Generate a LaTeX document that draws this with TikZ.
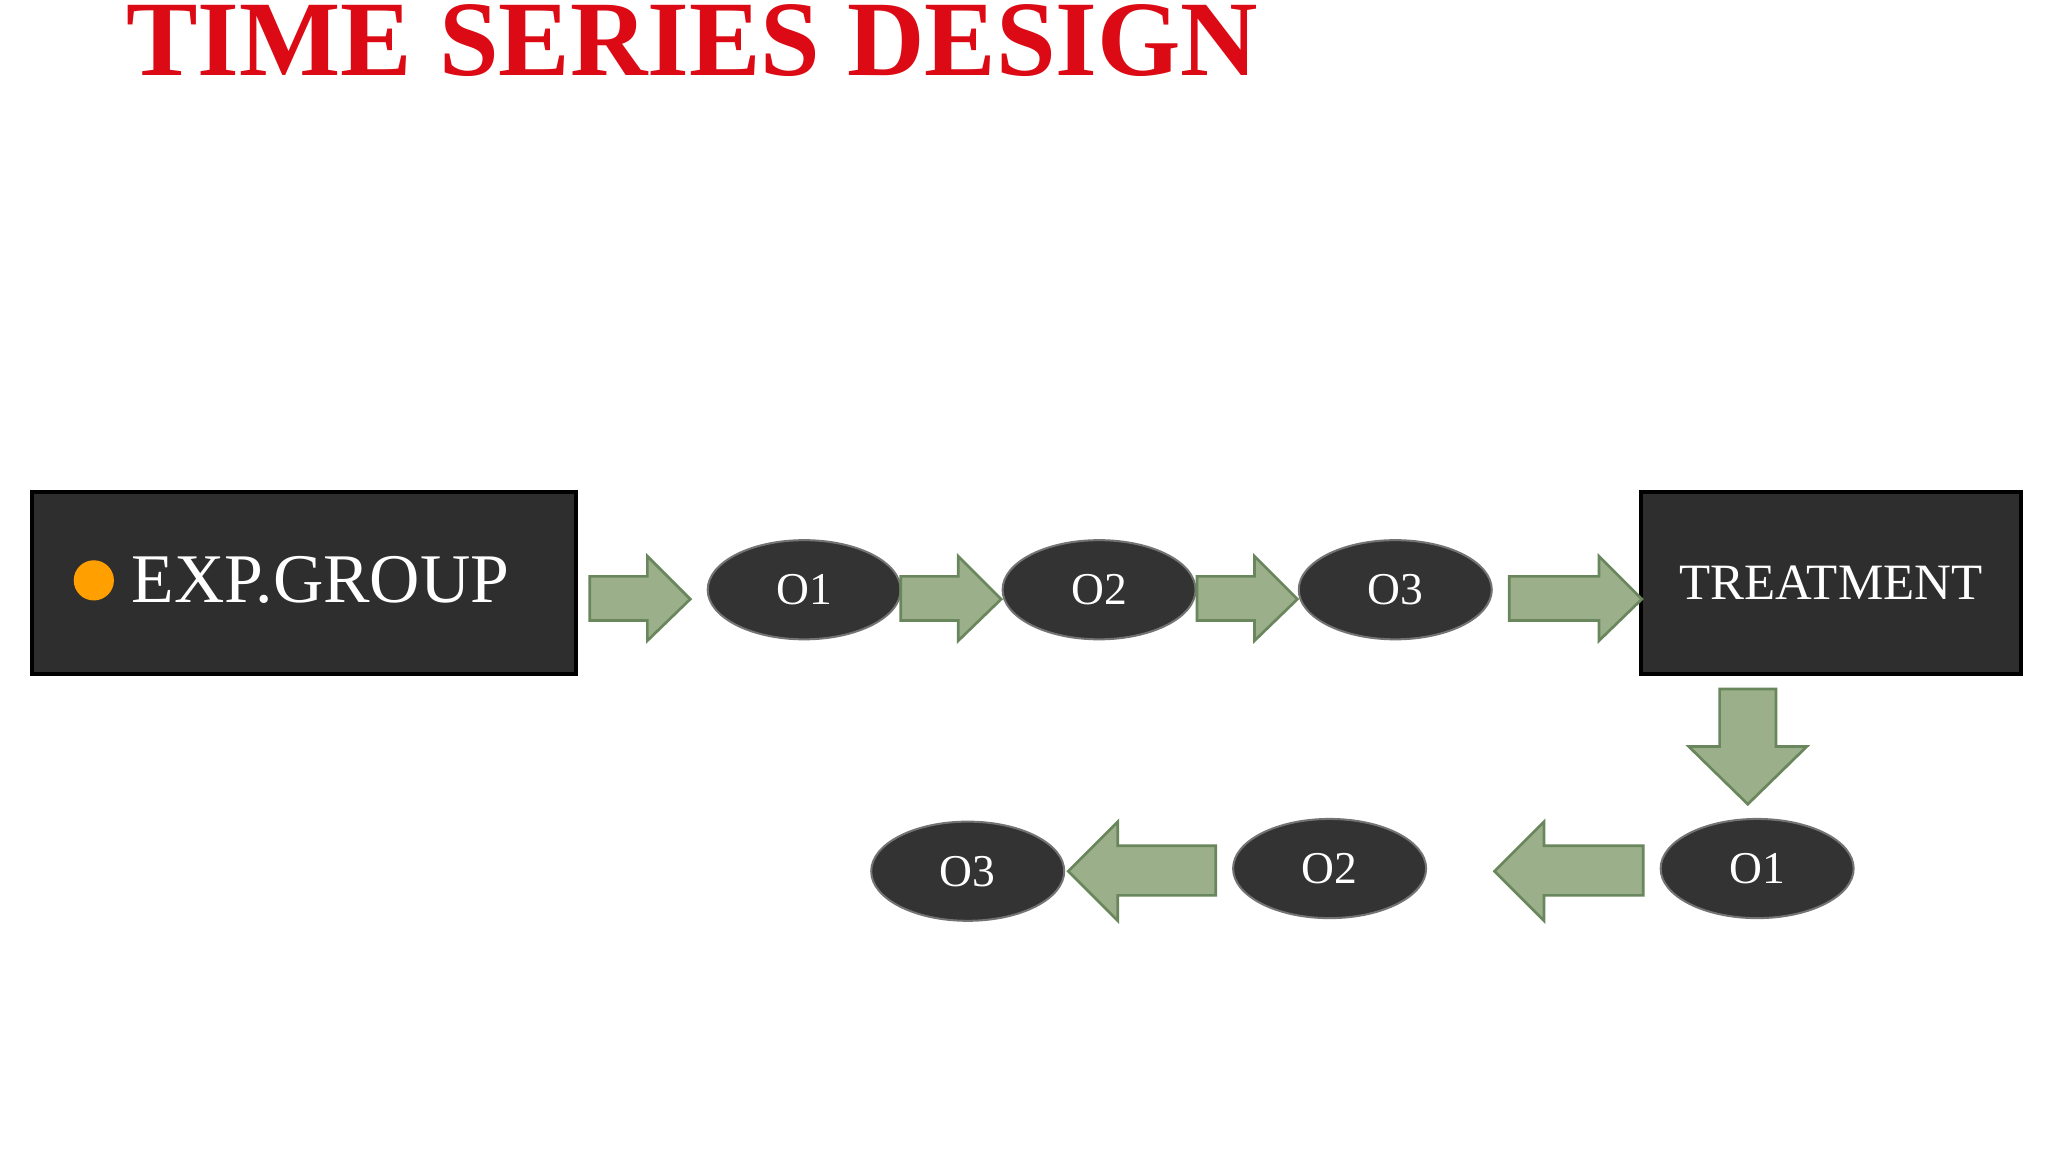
\documentclass[tikz,border=0pt]{standalone}
\usepackage{fontspec}
\setmainfont{Liberation Serif}
\usetikzlibrary{shapes.geometric}
\begin{document}
\begin{tikzpicture}[x=1pt,y=-1pt,
  box/.style={draw=black,line width=3pt,fill=black!82,text=white,inner sep=0pt},
  obs/.style={ellipse,fill=black!80,draw=black!55,line width=1.5pt,minimum width=144,minimum height=74,text=white,inner sep=0pt,font=\fontsize{34}{34}\selectfont},
  garrow/.style={fill={rgb,255:red,155;green,176;blue,138},draw={rgb,255:red,106;green,134;blue,92},line width=2pt,line join=miter}]
\useasboundingbox (0,0) rectangle (1528,860);
\fill[white] (0,0) rectangle (1528,860);
\node[anchor=base west,text={rgb,255:red,220;green,10;blue,20},font=\bfseries\fontsize{80}{80}\selectfont,inner sep=0pt] (title) at (94,56) {TIME SERIES DESIGN};
\node[box,minimum width=406,minimum height=136] (exp) at (227,435) {};
\fill[orange!75!yellow] (70,433) circle (15);
\node[anchor=west,text=white,font=\fontsize{52}{52}\selectfont,inner sep=0pt] (explbl) at (98,433) {EXP.GROUP};
\node[box,minimum width=284,minimum height=136,font=\fontsize{38}{38}\selectfont] (treat) at (1366,435) {TREATMENT};
\node[obs] (o1) at (600,440) {O1};
\node[obs] (o2) at (820,440) {O2};
\node[obs] (o3) at (1041,440) {O3};
\node[obs] (p1) at (1311,648) {O1};
\node[obs] (p2) at (992,648) {O2};
\node[obs] (p3) at (722,650) {O3};
% right arrows
\foreach \a/\b/\h in {440/515/483, 672/747/715, 893/968/936, 1126/1225/1193}
  \draw[garrow] (\a,430) -- (\h,430) -- (\h,415) -- (\b,447) -- (\h,478) -- (\h,463) -- (\a,463) -- cycle;
% down arrow
\draw[garrow] (1283,514) -- (1325,514) -- (1325,557) -- (1348,557) -- (1304,600) -- (1260,557) -- (1283,557) -- cycle;
% left arrows
\foreach \a/\b/\h in {1226/1115/1152, 907/797/834}
  \draw[garrow] (\a,631) -- (\h,631) -- (\h,613) -- (\b,650) -- (\h,687) -- (\h,668) -- (\a,668) -- cycle;
\end{tikzpicture}
\end{document}
